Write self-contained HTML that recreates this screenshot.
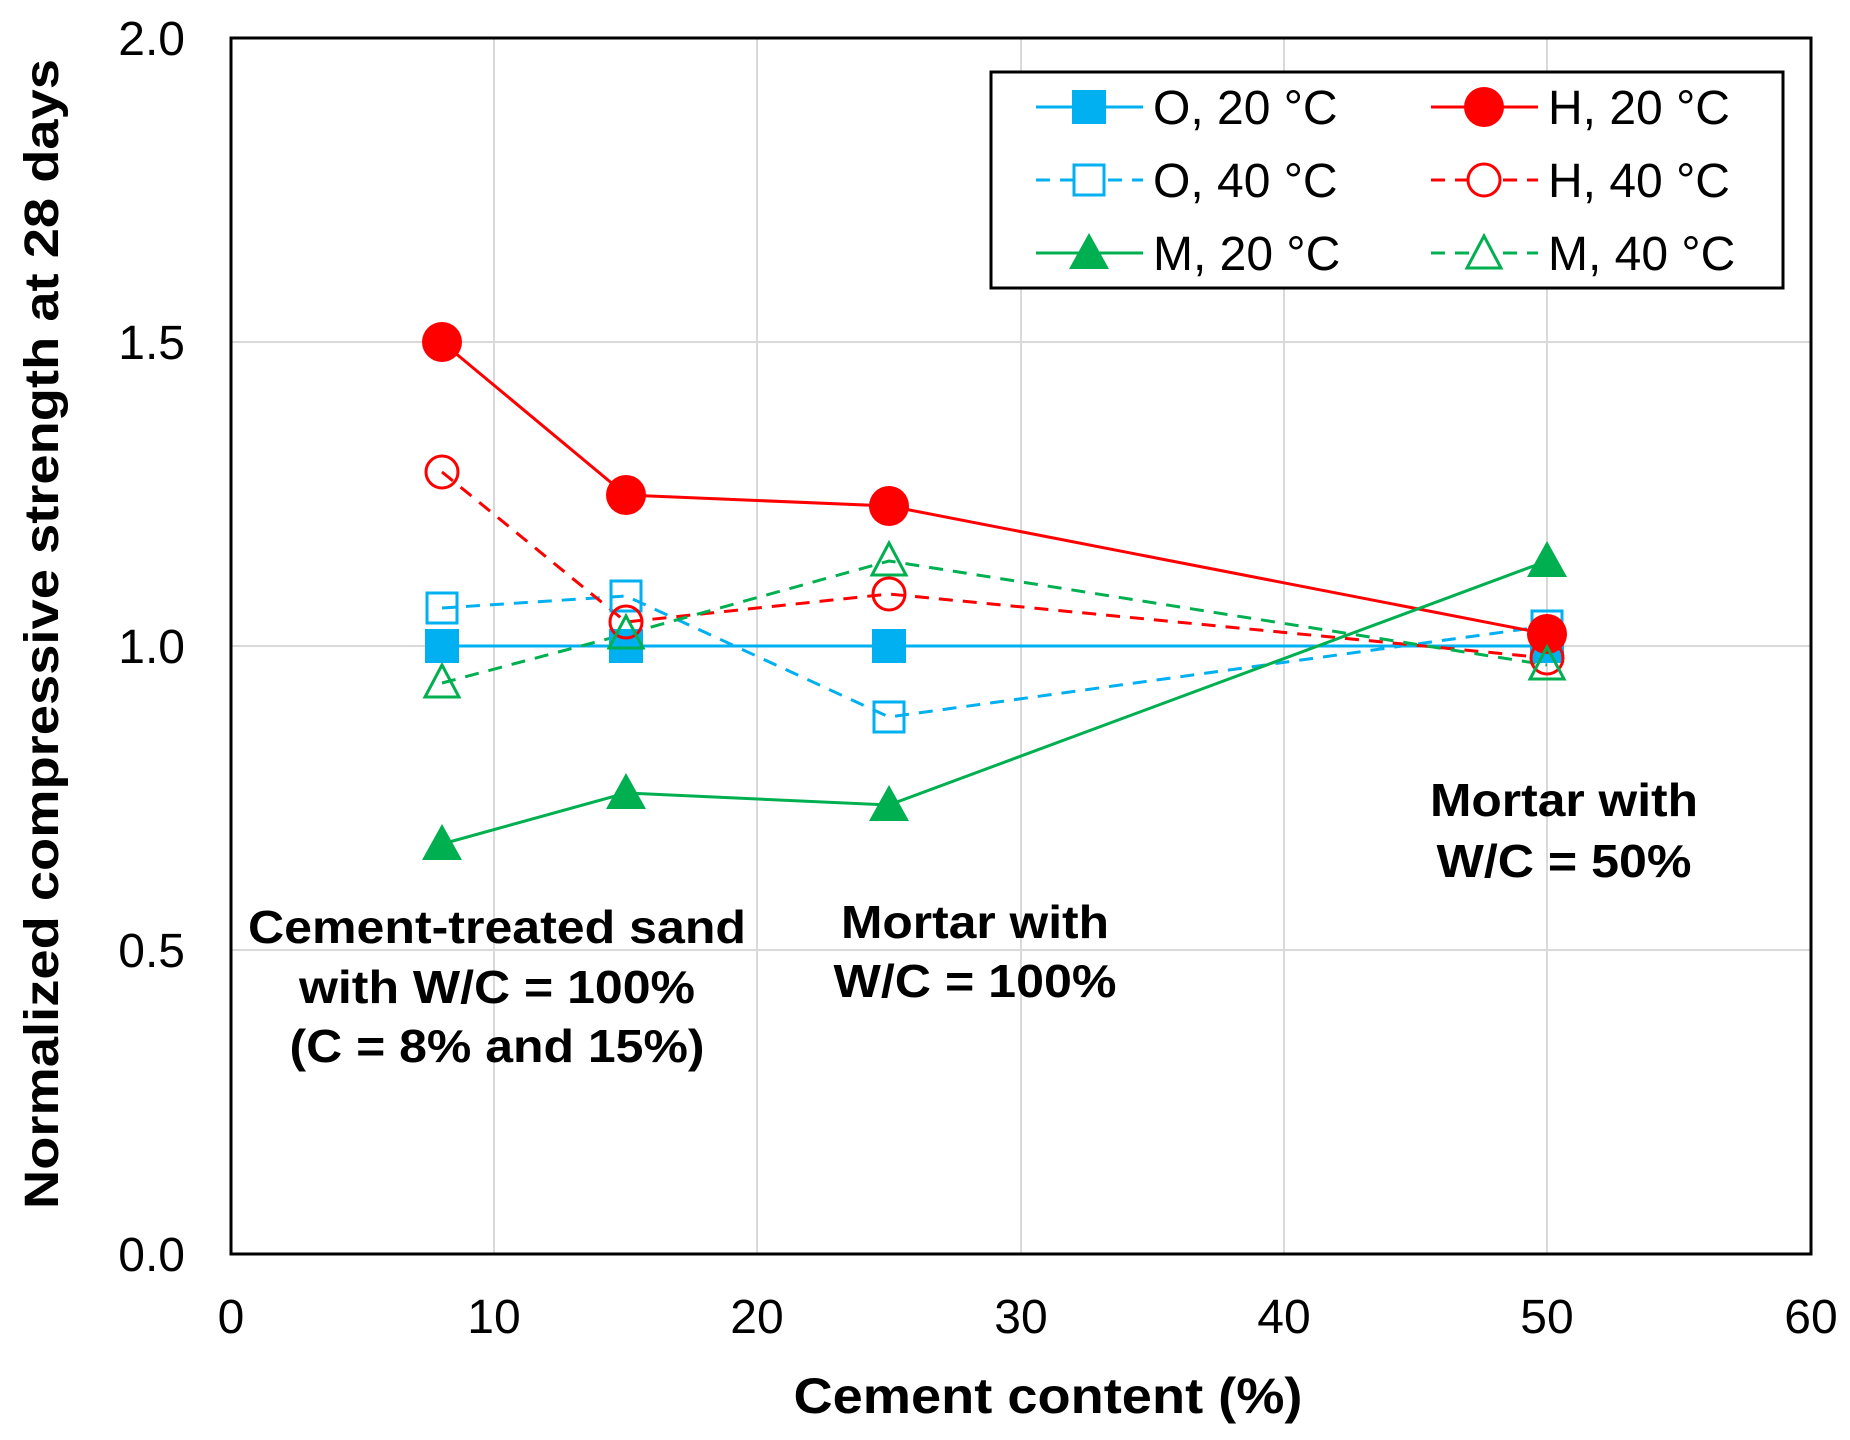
<!DOCTYPE html>
<html><head><meta charset="utf-8"><style>html,body{margin:0;padding:0;background:#fff}svg{display:block}</style></head>
<body>
<svg width="1850" height="1440" viewBox="0 0 1850 1440" xmlns="http://www.w3.org/2000/svg" font-family="Liberation Sans, Arial, sans-serif">
<rect width="1850" height="1440" fill="#fff"/>
<g stroke="#d9d9d9" stroke-width="2">
<line x1="494" y1="38" x2="494" y2="1254"/><line x1="757" y1="38" x2="757" y2="1254"/><line x1="1021" y1="38" x2="1021" y2="1254"/><line x1="1284" y1="38" x2="1284" y2="1254"/><line x1="1547" y1="38" x2="1547" y2="1254"/>
<line x1="231" y1="342" x2="1811" y2="342"/><line x1="231" y1="646" x2="1811" y2="646"/><line x1="231" y1="950" x2="1811" y2="950"/>
</g>
<rect x="231" y="38" width="1580" height="1216" fill="none" stroke="#000" stroke-width="3"/>
<g font-size="48" fill="#000" text-anchor="end">
<text x="185" y="55">2.0</text><text x="185" y="359">1.5</text><text x="185" y="663">1.0</text><text x="185" y="967">0.5</text><text x="185" y="1271">0.0</text>
</g>
<g font-size="48" fill="#000" text-anchor="middle">
<text x="231" y="1333">0</text><text x="494" y="1333">10</text><text x="757" y="1333">20</text><text x="1021" y="1333">30</text><text x="1284" y="1333">40</text><text x="1547" y="1333">50</text><text x="1811" y="1333">60</text>
</g>
<text x="1048" y="1413" font-size="50" font-weight="bold" text-anchor="middle" textLength="509" lengthAdjust="spacingAndGlyphs">Cement content (%)</text>
<text transform="translate(58,634) rotate(-90)" font-size="48" font-weight="bold" text-anchor="middle" textLength="1150" lengthAdjust="spacingAndGlyphs">Normalized compressive strength at 28 days</text>

<polyline points="442,646 626,646 889,646 1547,646" fill="none" stroke="#00b0f0" stroke-width="3"/>
<polyline points="442,608 626,596 889,717 1547,626" fill="none" stroke="#00b0f0" stroke-width="3" stroke-dasharray="14,10"/>
<polyline points="442,342 626,495 889,506 1547,634" fill="none" stroke="#ff0000" stroke-width="3"/>
<polyline points="442,472 626,622 889,594 1547,658" fill="none" stroke="#ff0000" stroke-width="3" stroke-dasharray="14,10"/>
<polyline points="442,844 626,793 889,805 1547,561" fill="none" stroke="#00b050" stroke-width="3"/>
<polyline points="442,683 626,634 889,561 1547,665" fill="none" stroke="#00b050" stroke-width="3" stroke-dasharray="14,10"/>

<g fill="#00b0f0"><rect x="425" y="629" width="34" height="34"/><rect x="609" y="629" width="34" height="34"/><rect x="872" y="629" width="34" height="34"/><rect x="1530" y="629" width="34" height="34"/></g>
<g fill="none" stroke="#00b0f0" stroke-width="3"><rect x="427" y="593" width="30" height="30"/><rect x="611" y="581" width="30" height="30"/><rect x="874" y="702" width="30" height="30"/><rect x="1532" y="611" width="30" height="30"/></g>
<g fill="#ff0000"><circle cx="442" cy="342" r="20"/><circle cx="626" cy="495" r="20"/><circle cx="889" cy="506" r="20"/><circle cx="1547" cy="634" r="20"/></g>
<g fill="none" stroke="#ff0000" stroke-width="3"><circle cx="442" cy="472" r="16"/><circle cx="626" cy="622" r="16"/><circle cx="889" cy="594" r="16"/><circle cx="1547" cy="658" r="16"/></g>
<g fill="#00b050"><polygon points="442,824 462,860 422,860"/><polygon points="626,773 646,809 606,809"/><polygon points="889,785 909,821 869,821"/><polygon points="1547,541 1567,577 1527,577"/></g>
<g fill="none" stroke="#00b050" stroke-width="3"><polygon points="442,665 459,697 425,697"/><polygon points="626,616 643,648 609,648"/><polygon points="889,543 906,575 872,575"/><polygon points="1547,647 1564,679 1530,679"/></g>

<g font-size="46" font-weight="bold" text-anchor="middle" fill="#000" lengthAdjust="spacingAndGlyphs">
<text x="497" y="943" textLength="498" lengthAdjust="spacingAndGlyphs">Cement-treated sand</text>
<text x="497" y="1003" textLength="396" lengthAdjust="spacingAndGlyphs">with W/C = 100%</text>
<text x="497" y="1062" textLength="415" lengthAdjust="spacingAndGlyphs">(C = 8% and 15%)</text>
<text x="975" y="938" textLength="268" lengthAdjust="spacingAndGlyphs">Mortar with</text>
<text x="975" y="997" textLength="283" lengthAdjust="spacingAndGlyphs">W/C = 100%</text>
<text x="1564" y="816" textLength="268" lengthAdjust="spacingAndGlyphs">Mortar with</text>
<text x="1564" y="877" textLength="255" lengthAdjust="spacingAndGlyphs">W/C = 50%</text>
</g>

<rect x="991" y="72" width="792" height="216" fill="#fff" stroke="#000" stroke-width="3"/>
<g stroke-width="3">
<line x1="1036" y1="107" x2="1143" y2="107" stroke="#00b0f0"/><rect x="1072" y="90" width="34" height="34" fill="#00b0f0"/>
<line x1="1036" y1="180" x2="1143" y2="180" stroke="#00b0f0" stroke-dasharray="14,10"/><rect x="1074" y="165" width="30" height="30" fill="#fff" stroke="#00b0f0"/>
<line x1="1036" y1="253" x2="1143" y2="253" stroke="#00b050"/><polygon points="1089,233 1109,269 1069,269" fill="#00b050"/>
<line x1="1431" y1="107" x2="1538" y2="107" stroke="#ff0000"/><circle cx="1484" cy="107" r="20" fill="#ff0000"/>
<line x1="1431" y1="180" x2="1538" y2="180" stroke="#ff0000" stroke-dasharray="14,10"/><circle cx="1484" cy="180" r="16" fill="#fff" stroke="#ff0000"/>
<line x1="1431" y1="253" x2="1538" y2="253" stroke="#00b050" stroke-dasharray="14,10"/><polygon points="1484,236 1501,268 1467,268" fill="#fff" stroke="#00b050"/>
</g>
<g font-size="48" fill="#000">
<text x="1153" y="124">O, 20 °C</text><text x="1153" y="197">O, 40 °C</text><text x="1153" y="270">M, 20 °C</text>
<text x="1548" y="124">H, 20 °C</text><text x="1548" y="197">H, 40 °C</text><text x="1548" y="270">M, 40 °C</text>
</g>
</svg>
</body></html>
